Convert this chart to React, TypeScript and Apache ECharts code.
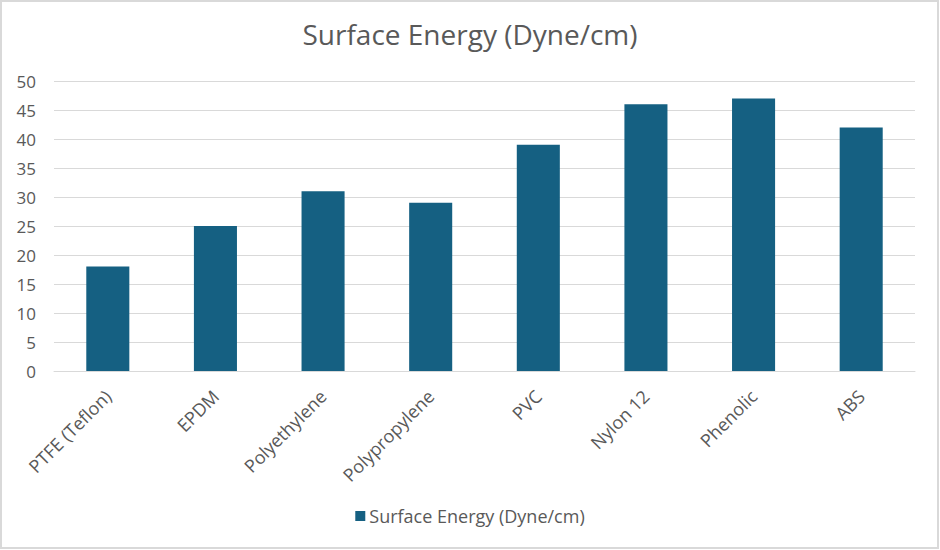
import React, { useEffect, useRef } from "react";
import * as echarts from "echarts";

const categories = ["PTFE (Teflon)", "EPDM", "Polyethylene", "Polypropylene", "PVC", "Nylon 12", "Phenolic", "ABS"];
const surfaceEnergy = [18, 25, 31, 29, 39, 46, 47, 42];
const seriesName = "Surface Energy (Dyne/cm)";
const titleText = "Surface Energy (Dyne/cm)";

const FONT = "'Open Sans', 'Liberation Sans', sans-serif";
const TEXT = "#595959";

export default function App() {
  const ref = useRef<HTMLDivElement>(null);
  useEffect(() => {
    document.body.style.margin = "0";
    const chart = echarts.init(ref.current!, null, { renderer: "svg" });
    chart.setOption({
      animation: false,
      backgroundColor: "#ffffff",
      textStyle: { fontFamily: FONT },
      title: {
        text: titleText,
        left: "center",
        top: 15,
        textStyle: { fontFamily: FONT, fontSize: 28, fontWeight: "normal", color: TEXT },
      },
      graphic: [
        {
          type: "rect",
          shape: { x: 1, y: 1, width: 937, height: 547 },
          style: { fill: "none", stroke: "#d9d9d9", lineWidth: 2 },
          silent: true,
        },
      ],
      legend: {
        bottom: 20,
        left: "center",
        itemWidth: 10,
        itemHeight: 10,
        itemGap: 10,
        icon: "rect",
        textStyle: { fontFamily: FONT, fontSize: 18, color: TEXT, padding: [0, 0, 0, -1] },
        data: [seriesName],
      },
      grid: { left: 54, right: 25, top: 81, bottom: 179, containLabel: false },
      xAxis: {
        type: "category",
        data: categories,
        axisLine: { lineStyle: { color: "#d9d9d9", width: 1 } },
        axisTick: { show: false },
        axisLabel: {
          rotate: 45,
          interval: 0,
          margin: 22,
          fontFamily: FONT,
          fontSize: 18,
          color: TEXT,
        },
      },
      yAxis: {
        type: "value",
        min: 0,
        max: 50,
        interval: 5,
        axisLine: { show: false },
        axisTick: { show: false },
        splitLine: { lineStyle: { color: "#d9d9d9", width: 1 } },
        axisLabel: { fontFamily: FONT, fontSize: 17, color: TEXT, margin: 18 },
      },
      series: [
        {
          name: seriesName,
          type: "bar",
          data: surfaceEnergy,
          barWidth: "40%",
          itemStyle: { color: "#156082" },
        },
      ],
    });
    return () => chart.dispose();
  }, []);
  return <div ref={ref} style={{ width: 940, height: 550 }} />;
}
